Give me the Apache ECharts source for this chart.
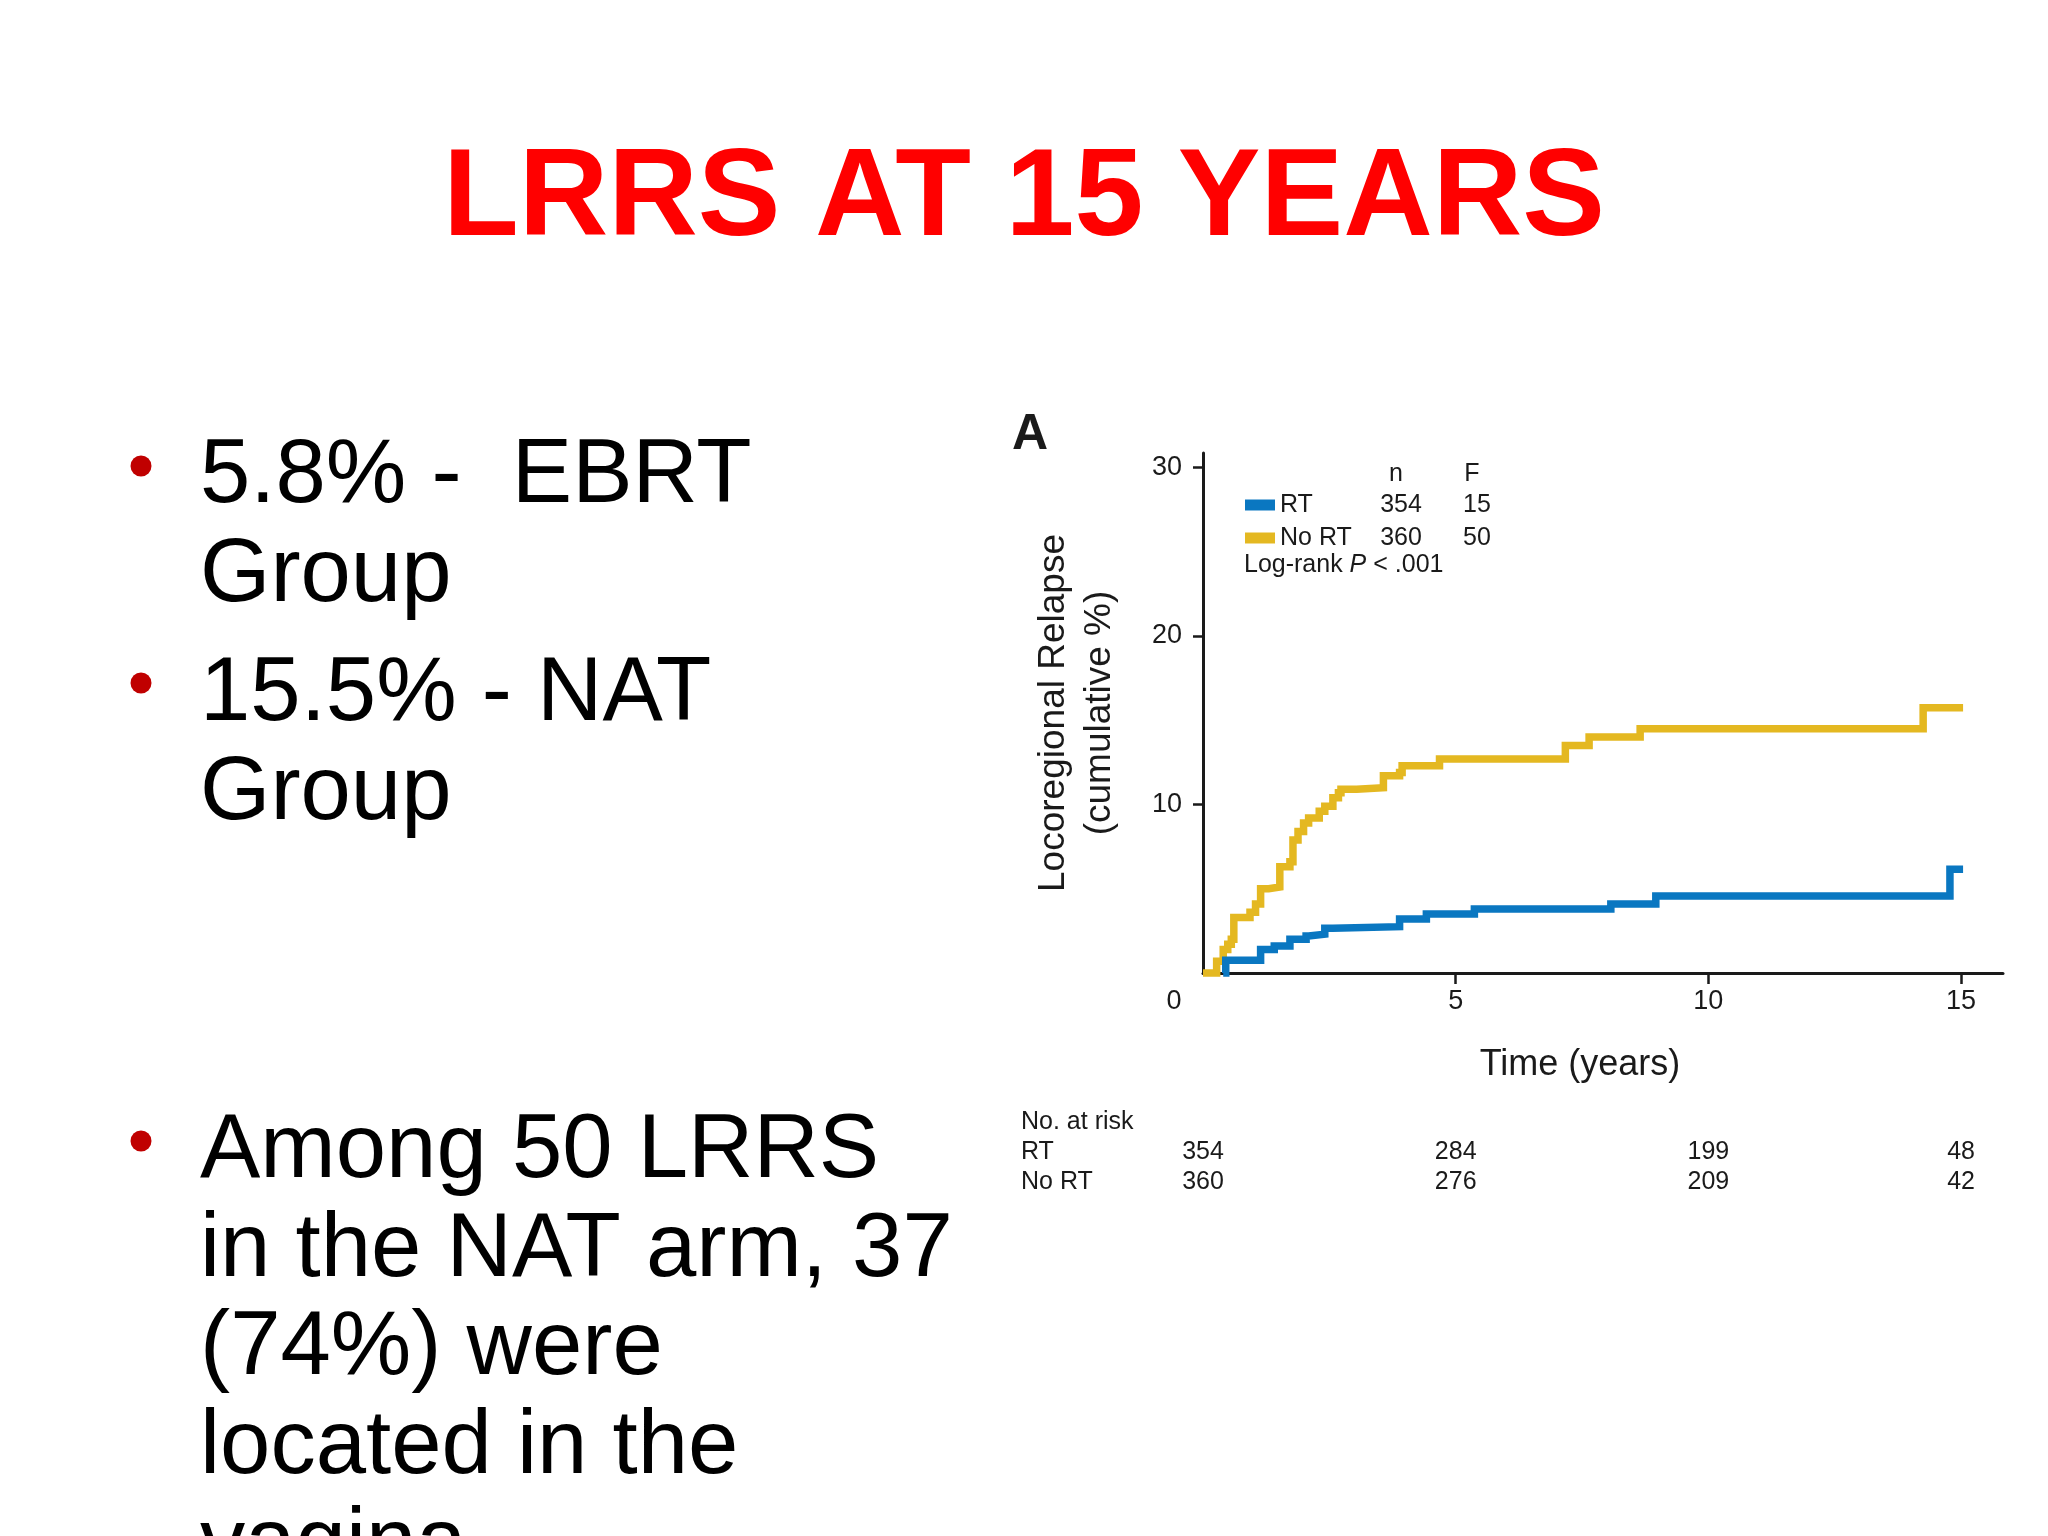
<!DOCTYPE html>
<html>
<head>
<meta charset="utf-8">
<title>LRRS at 15 years</title>
<script src="https://cdn.jsdelivr.net/npm/echarts@6/dist/echarts.min.js"></script>
<style>
  html, body { margin: 0; padding: 0; background: #fff; }
  #main { width: 2048px; height: 1536px; }
</style>
</head>
<body>
<div id="main"></div>
<script>
// cumulative locoregional relapse (%), step curves
const rtTime = [0.40, 0.45, 1.14, 1.41, 1.72, 2.04, 2.09, 2.41, 2.57, 3.89, 4.42, 5.37, 8.07, 8.96, 14.78, 15.04];
const rtRate = [0, 0.75, 1.4, 1.6, 2.0, 2.2, 2.3, 2.65, 2.75, 3.2, 3.5, 3.8, 4.1, 4.57, 6.15, 6.15];
const noRtTime = [0, 0.27, 0.40, 0.49, 0.56, 0.61, 0.93, 1.04, 1.14, 1.30, 1.52, 1.72, 1.78, 1.88, 1.99, 2.09,
  2.30, 2.41, 2.57, 2.68, 2.73, 3.04, 3.57, 3.89, 3.94, 4.68, 7.17, 7.64, 8.65, 14.25, 15.04];
const noRtRate = [0, 0.7, 1.4, 1.7, 2.0, 3.3, 3.6, 4.1, 5.0, 5.1, 6.3, 6.6, 7.9, 8.4, 8.9, 9.2,
  9.6, 9.9, 10.4, 10.7, 10.9, 11.0, 11.7, 11.9, 12.3, 12.7, 13.5, 14.0, 14.5, 15.74, 15.74];

// number at risk table
const riskTimes = [0, 5, 10, 15];
const rtAtRisk = [354, 284, 199, 48];
const noRtAtRisk = [360, 276, 209, 42];

// legend table
const groupNames = ["RT", "No RT"];
const groupN = [354, 360];
const groupF = [15, 50];

const xTicks = [5, 10, 15];
const xLabels = [0, 5, 10, 15];
const yTicks = [10, 20, 30];

const slideTitle = "LRRS AT 15 YEARS";
const bullets = [
  ["5.8% -  EBRT", "Group"],
  ["15.5% - NAT", "Group"],
  ["Among 50 LRRS", "in the NAT arm, 37", "(74%) were", "located in the", "vagina"]
];

const BLUE = "#0a77c1";
const YELLOW = "#e4b821";
const INK = "#1a1a1a";
const SANS = "'Liberation Sans', Arial, sans-serif";

function zip(xs, ys) {
  return xs.map((x, i) => [x, ys[i]]);
}

// top y of each bullet block and the dot beside it
const blockTop = [428, 646, 1103];
const dotY = [466, 683, 1141];

function label(text, x, y, size, align, extra) {
  let style = {
    text: text, fontSize: size, fontFamily: SANS, fill: INK,
    align: align, verticalAlign: "middle", textAlign: align, textVerticalAlign: "middle"
  };
  return { type: "text", x: x, y: y, style: Object.assign(style, extra || {}) };
}

let graphics = [
  label(slideTitle, 1024, 201, 124, "center", { fontWeight: "bold", fill: "#ff0000" }),
  label("A", 1030, 435, 50, "center", { fontWeight: "bold" }),
  // legend header
  label("n", 1396, 474, 25, "center"),
  label("F", 1472, 474, 25, "center"),
  label("Log-rank {i|P} < .001", 1244, 565, 25, "left", {
    rich: { i: { fontStyle: "italic", fontSize: 25, fontFamily: SANS, fill: INK } }
  }),
  // risk table row labels
  label("No. at risk", 1021, 1122, 25, "left"),
  label("RT", 1021, 1152, 25, "left"),
  label("No RT", 1021, 1182, 25, "left")
];

bullets.forEach(function (lines, i) {
  graphics.push({
    type: "circle",
    shape: { cx: 141, cy: dotY[i], r: 10.5 },
    style: { fill: "#c00000" }
  });
  graphics.push({
    type: "text", x: 200, y: blockTop[i],
    style: {
      text: lines.join("\n"), fontSize: 90.5, fontFamily: SANS, fill: "#000", lineHeight: 98.5,
      align: "left", verticalAlign: "top", textAlign: "left", textVerticalAlign: "top"
    }
  });
});

function riskAxis(counts, offset) {
  return {
    type: "value", gridIndex: 0, position: "bottom", offset: offset,
    min: 0, max: 15.83,
    axisLine: { show: false }, axisTick: { show: false }, splitLine: { show: false },
    axisLabel: {
      customValues: riskTimes, margin: 0, verticalAlign: "middle",
      fontFamily: SANS, fontSize: 25, color: INK,
      formatter: function (v) { return String(counts[riskTimes.indexOf(v)]); }
    }
  };
}

let option = {
  backgroundColor: "#ffffff",
  animation: false,
  grid: { left: 1203, top: 453, width: 800, height: 520, outerBoundsMode: "none", containLabel: false },
  legend: {
    orient: "vertical", left: 1240, top: 485,
    itemWidth: 30, itemHeight: 11, itemGap: 3,
    icon: "rect", selectedMode: false,
    data: groupNames,
    formatter: function (name) {
      let i = groupNames.indexOf(name);
      return "{a|" + name + "}{b|" + groupN[i] + "}{c|" + groupF[i] + "}";
    },
    textStyle: {
      fontFamily: SANS, fontSize: 25, color: INK, lineHeight: 30,
      rich: {
        a: { width: 100, align: "left", fontFamily: SANS, fontSize: 25, color: INK },
        b: { width: 42, align: "center", fontFamily: SANS, fontSize: 25, color: INK },
        c: { width: 110, align: "center", fontFamily: SANS, fontSize: 25, color: INK }
      }
    }
  },
  xAxis: [
    {
      type: "value", gridIndex: 0, position: "bottom",
      min: 0, max: 15.83,
      axisLine: { show: true, onZero: false, lineStyle: { color: INK, width: 3 } },
      axisTick: { show: true, inside: false, length: 11, customValues: xTicks, lineStyle: { color: INK, width: 2.5 } },
      splitLine: { show: false },
      axisLabel: {
        customValues: xLabels, margin: 14, lineHeight: 30,
        fontFamily: SANS, fontSize: 27, color: INK,
        formatter: function (v) { return v === 0 ? "{o|0}" : String(v); },
        rich: { o: { padding: [0, 58, 0, 0], fontFamily: SANS, fontSize: 27, color: INK, lineHeight: 30 } }
      },
      name: "Time (years)", nameLocation: "middle", nameGap: 70, nameMoveOverlap: false,
      nameTextStyle: { fontFamily: SANS, fontSize: 36, lineHeight: 44, color: INK, padding: [0, 46, 0, 0] }
    },
    riskAxis(rtAtRisk, 179),
    riskAxis(noRtAtRisk, 209)
  ],
  yAxis: {
    type: "value", min: 0, max: 30.86,
    axisLine: { show: true, onZero: false, lineStyle: { color: INK, width: 3 } },
    axisTick: { show: true, inside: false, length: 10, customValues: yTicks, lineStyle: { color: INK, width: 2.5 } },
    splitLine: { show: false },
    axisLabel: { customValues: yTicks, margin: 21, fontFamily: SANS, fontSize: 27, color: INK },
    name: "Locoregional Relapse\n(cumulative %)", nameLocation: "middle", nameGap: 80, nameRotate: 90,
    nameMoveOverlap: false,
    nameTextStyle: { fontFamily: SANS, fontSize: 37, lineHeight: 46, color: INK }
  },
  series: [
    {
      name: "No RT", type: "line", step: "end", data: zip(noRtTime, noRtRate),
      xAxisIndex: 0, yAxisIndex: 0, symbol: "none", clip: false, z: 2,
      color: YELLOW,
      itemStyle: { color: YELLOW },
      lineStyle: { color: YELLOW, width: 7.5, cap: "butt", join: "miter" }
    },
    {
      name: "RT", type: "line", step: "end", data: zip(rtTime, rtRate),
      xAxisIndex: 0, yAxisIndex: 0, symbol: "none", clip: false, z: 3,
      color: BLUE,
      itemStyle: { color: BLUE },
      lineStyle: { color: BLUE, width: 7.5, cap: "butt", join: "miter" }
    }
  ],
  graphic: graphics
};

let myChart = echarts.init(document.getElementById("main"), null, { renderer: "canvas" });
myChart.setOption(option);
</script>
</body>
</html>
